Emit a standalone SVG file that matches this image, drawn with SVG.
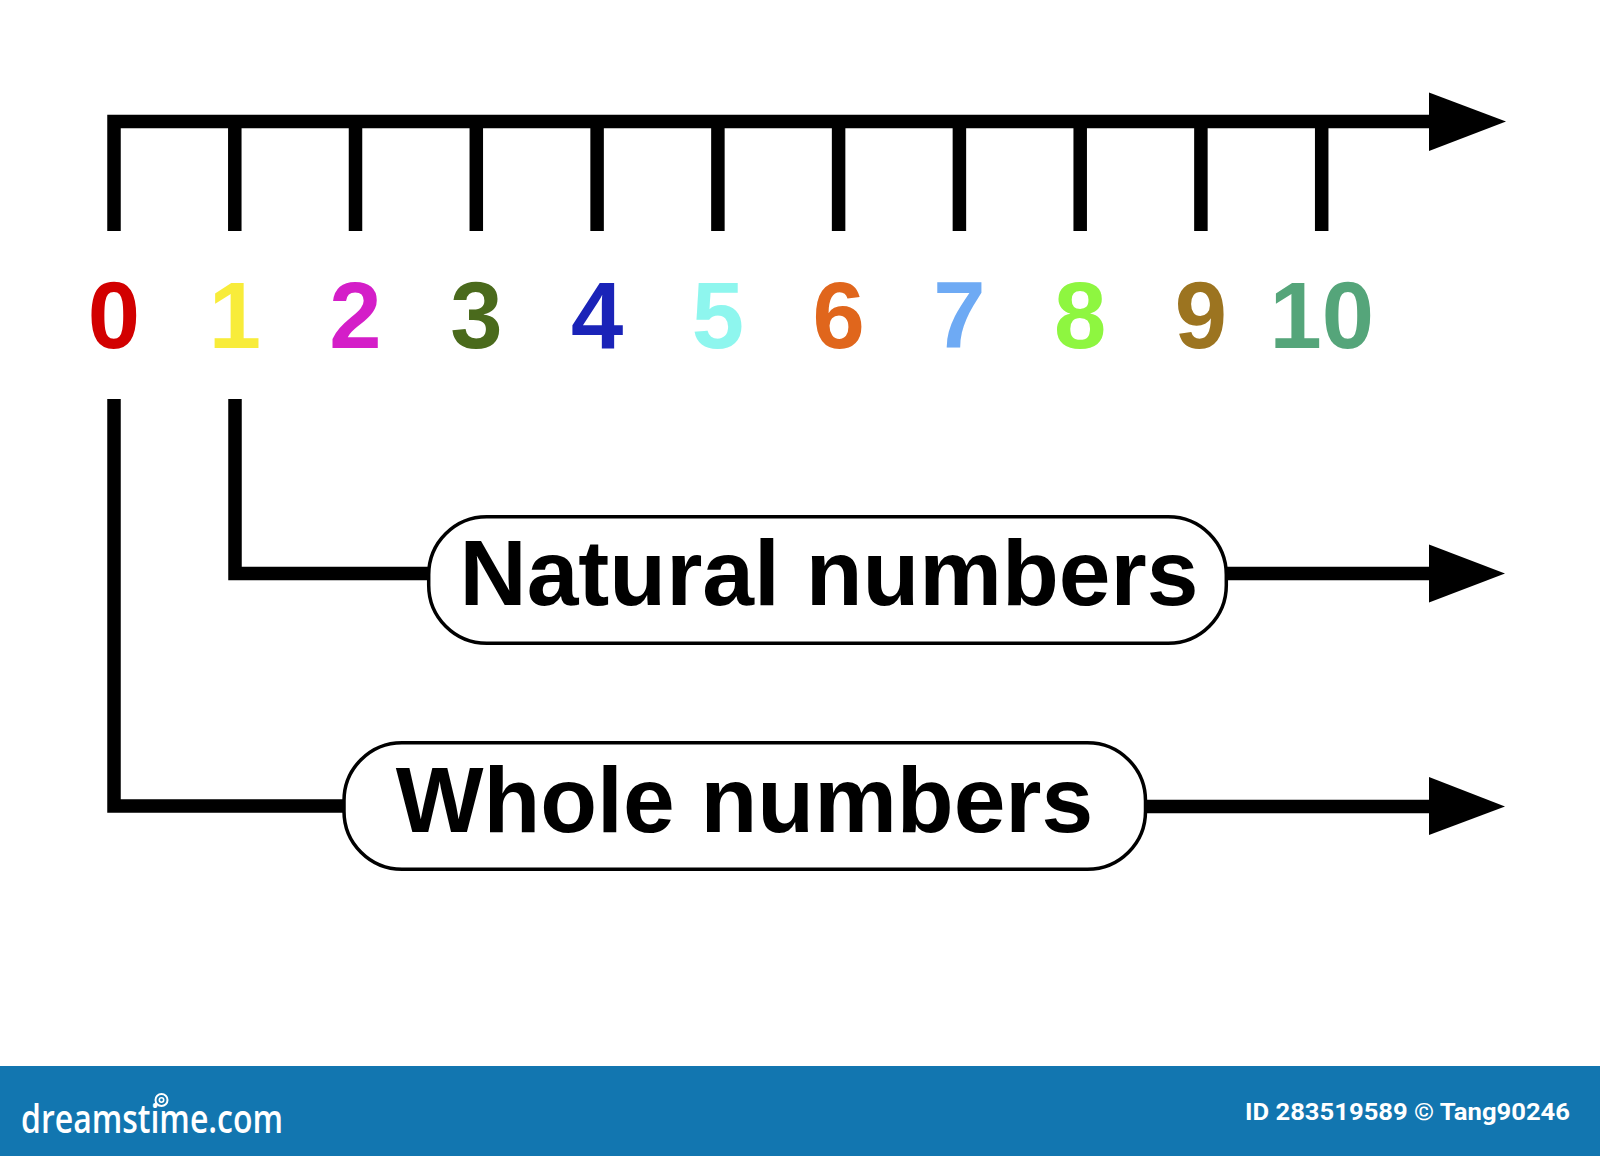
<svg xmlns="http://www.w3.org/2000/svg" width="1600" height="1156" viewBox="0 0 1600 1156">
  <defs>
    <style>
      .ln { fill: none; stroke: #000; stroke-width: 13.5; stroke-linecap: butt; stroke-linejoin: miter; }
      .ah { fill: #000; }
      .num { font-family: "Liberation Sans", Arial, sans-serif; font-weight: bold; font-size: 94px; text-anchor: middle; }
      .box { fill: #fff; stroke: #000; stroke-width: 3.5; }
      .lbl { font-family: "Liberation Sans", Arial, sans-serif; font-weight: bold; font-size: 93px; text-anchor: middle; fill: #000; }
    </style>
  </defs>
  <rect width="1600" height="1156" fill="#fff"/>

  <g id="number-line">
    <path class="ln" d="M114,231 V121.5 H1430"/>
    <g class="ln">
      <line x1="234.8" y1="121" x2="234.8" y2="231"/>
      <line x1="355.5" y1="121" x2="355.5" y2="231"/>
      <line x1="476.3" y1="121" x2="476.3" y2="231"/>
      <line x1="597.1" y1="121" x2="597.1" y2="231"/>
      <line x1="717.9" y1="121" x2="717.9" y2="231"/>
      <line x1="838.6" y1="121" x2="838.6" y2="231"/>
      <line x1="959.4" y1="121" x2="959.4" y2="231"/>
      <line x1="1080.2" y1="121" x2="1080.2" y2="231"/>
      <line x1="1200.9" y1="121" x2="1200.9" y2="231"/>
      <line x1="1321.7" y1="121" x2="1321.7" y2="231"/>
    </g>
    <polygon class="ah" points="1429,92.5 1506,121.5 1429,151"/>
  </g>

  <g id="numbers">
    <text class="num" x="114" y="348" fill="#d20000">0</text>
    <text class="num" x="234.8" y="348" fill="#f8ec3a">1</text>
    <text class="num" x="355.5" y="348" fill="#d41ec8">2</text>
    <text class="num" x="476.3" y="348" fill="#4a6a1c">3</text>
    <text class="num" x="597.1" y="348" fill="#1a23b8">4</text>
    <text class="num" x="717.9" y="348" fill="#8ef6ee">5</text>
    <text class="num" x="838.6" y="348" fill="#e0661c">6</text>
    <text class="num" x="959.4" y="348" fill="#6eaaf4">7</text>
    <text class="num" x="1080.2" y="348" fill="#8ef640">8</text>
    <text class="num" x="1200.9" y="348" fill="#9c7420">9</text>
    <text class="num" x="1321.7" y="348" fill="#55a57a">10</text>
  </g>

  <g id="connectors">
    <path class="ln" d="M235,399 V573.5 H429"/>
    <path class="ln" d="M1226,573.5 H1430"/>
    <polygon class="ah" points="1429,544.5 1505,573.5 1429,602.5"/>
    <path class="ln" d="M114,399 V806 H344"/>
    <path class="ln" d="M1145,806.5 H1430"/>
    <polygon class="ah" points="1429,777 1505,806.5 1429,835"/>
  </g>

  <g id="natural-numbers">
    <rect class="box" x="428.7" y="516.7" width="797.6" height="126.6" rx="58" ry="58"/>
    <text class="lbl" x="829" y="605">Natural numbers</text>
  </g>

  <g id="whole-numbers">
    <rect class="box" x="344" y="742.7" width="801.5" height="126.6" rx="58" ry="58"/>
    <text class="lbl" x="744.5" y="832">Whole numbers</text>
  </g>

  <g id="footer">
    <rect x="0" y="1066" width="1600" height="90" fill="#1276b0"/>
    <text x="21" y="1133" font-family="'Open Sans', 'DejaVu Sans', sans-serif" font-weight="600" font-size="39" fill="#fff" textLength="262" lengthAdjust="spacingAndGlyphs">dreamstime.com</text>
    <circle cx="161.5" cy="1100" r="6" fill="none" stroke="#fff" stroke-width="2"/>
    <circle cx="161.5" cy="1100" r="2.2" fill="none" stroke="#fff" stroke-width="1.6"/>
    <text x="1245" y="1120" font-family="Roboto, 'Liberation Sans', sans-serif" font-weight="bold" font-size="24" fill="#fff" textLength="325" lengthAdjust="spacingAndGlyphs">ID 283519589 © Tang90246</text>
  </g>
</svg>
